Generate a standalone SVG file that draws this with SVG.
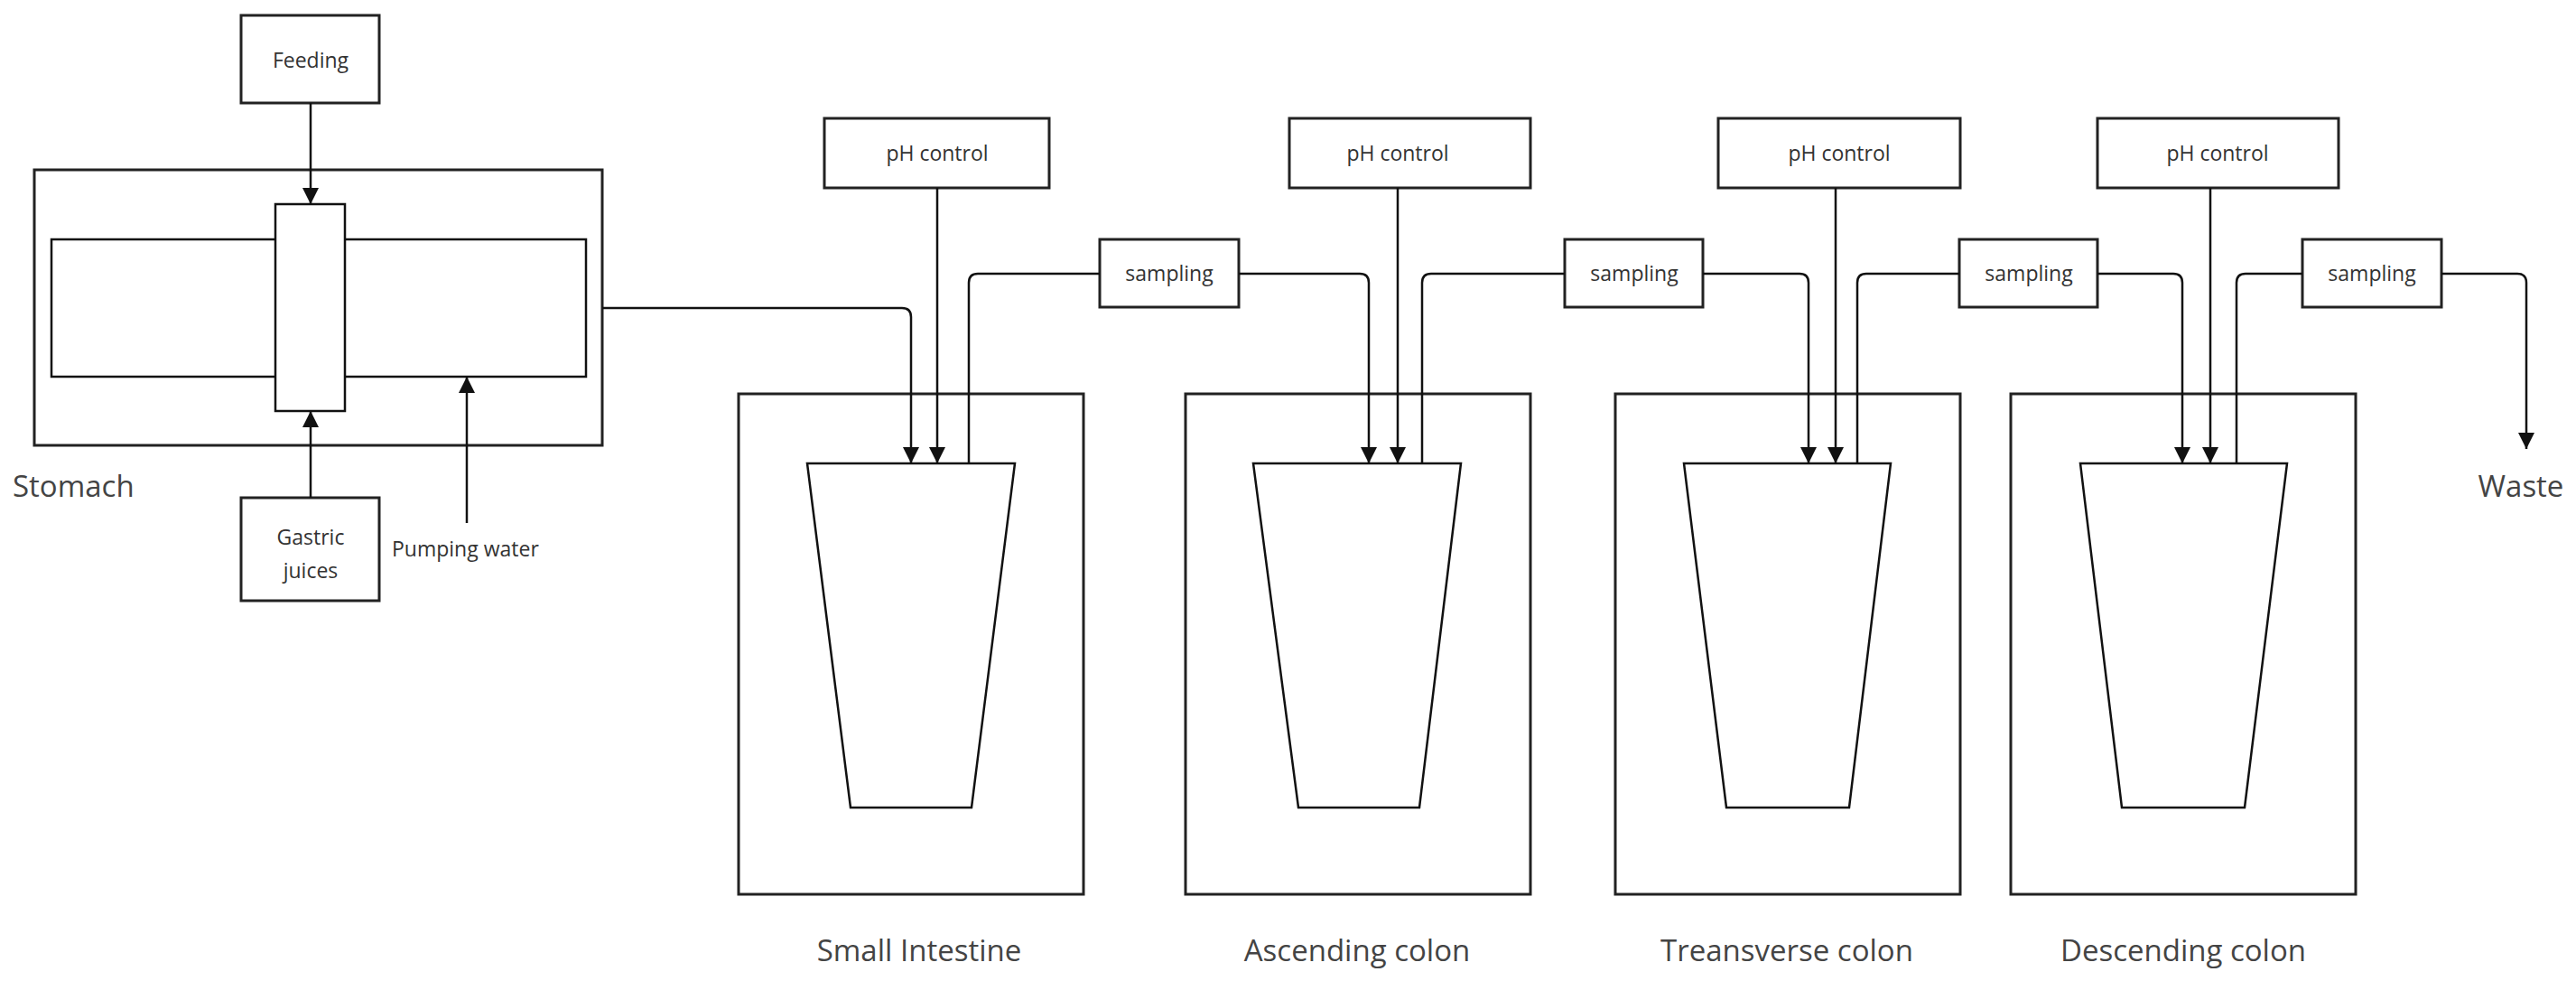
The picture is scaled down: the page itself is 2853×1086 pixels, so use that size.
<svg xmlns="http://www.w3.org/2000/svg" width="2853" height="1086" viewBox="0 0 2853 1086">
<style>
.b{fill:#fff;stroke:#222;stroke-width:3}
.t{fill:#fff;stroke:#111;stroke-width:2.5}
.c{fill:none;stroke:#111;stroke-width:2.5}
.s{font-family:"Open Sans","Noto Sans",sans-serif;font-size:23px;fill:#333;text-anchor:middle}
.L{font-family:"Open Sans","Noto Sans",sans-serif;font-size:33px;fill:#444;text-anchor:middle}
</style>
<defs><marker id="a" markerUnits="userSpaceOnUse" markerWidth="24" markerHeight="24" refX="18" refY="9" orient="auto"><path d="M0,0L18,9L0,18z" fill="#111"/></marker></defs>
<rect width="2853" height="1086" fill="#fff"/>
<g id="stomach"><rect class="b" x="38" y="188" width="629" height="305"/><rect class="t" x="57" y="265" width="592" height="152"/><rect class="t" x="305" y="226" width="77" height="229"/><text class="L" x="14" y="550" style="text-anchor:start">Stomach</text></g>
<g id="feeding"><rect class="b" x="267" y="17" width="153" height="97"/><text class="s" x="344" y="75">Feeding</text></g>
<g id="gastric"><rect class="b" x="267" y="551" width="153" height="114"/><text class="s" x="344" y="603">Gastric</text><text class="s" x="344" y="640">juices</text></g>
<g id="pumping"><text class="s" x="434" y="616" style="text-anchor:start">Pumping water</text></g>
<g id="si"><rect class="b" x="818" y="436" width="382" height="554"/><polygon class="t" points="894,513 1124,513 1076,894 942,894"/><text class="L" x="1018" y="1064">Small Intestine</text></g>
<g id="ac"><rect class="b" x="1313" y="436" width="382" height="554"/><polygon class="t" points="1388,513 1618,513 1572,894 1438,894"/><text class="L" x="1503" y="1064">Ascending colon</text></g>
<g id="tc"><rect class="b" x="1789" y="436" width="382" height="554"/><polygon class="t" points="1865,513 2094,513 2048,894 1912,894"/><text class="L" x="1979" y="1064">Treansverse colon</text></g>
<g id="dc"><rect class="b" x="2227" y="436" width="382" height="554"/><polygon class="t" points="2304,513 2533,513 2486,894 2350,894"/><text class="L" x="2418" y="1064">Descending colon</text></g>
<g id="ph1"><rect class="b" x="913" y="131" width="249" height="77"/><text class="s" x="1038" y="178">pH control</text></g>
<g id="ph2"><rect class="b" x="1428" y="131" width="267" height="77"/><text class="s" x="1548" y="178">pH control</text></g>
<g id="ph3"><rect class="b" x="1903" y="131" width="268" height="77"/><text class="s" x="2037" y="178">pH control</text></g>
<g id="ph4"><rect class="b" x="2323" y="131" width="267" height="77"/><text class="s" x="2456" y="178">pH control</text></g>
<g id="sa1"><rect class="b" x="1218" y="265" width="154" height="75"/><text class="s" x="1295" y="311">sampling</text></g>
<g id="sa2"><rect class="b" x="1733" y="265" width="153" height="75"/><text class="s" x="1810" y="311">sampling</text></g>
<g id="sa3"><rect class="b" x="2170" y="265" width="153" height="75"/><text class="s" x="2247" y="311">sampling</text></g>
<g id="sa4"><rect class="b" x="2550" y="265" width="154" height="75"/><text class="s" x="2627" y="311">sampling</text></g>
<text class="L" x="2792" y="550">Waste</text>
<g id="connectors">
<path class="c" d="M344,114V226" marker-end="url(#a)"/>
<path class="c" d="M344,551V455" marker-end="url(#a)"/>
<path class="c" d="M517,579V417" marker-end="url(#a)"/>
<path class="c" d="M667,341H999Q1009,341 1009,351V513" marker-end="url(#a)"/>
<path class="c" d="M1038,208V513" marker-end="url(#a)"/>
<path class="c" d="M1073,513V313Q1073,303 1083,303H1218"/>
<path class="c" d="M1372,303H1506Q1516,303 1516,313V513" marker-end="url(#a)"/>
<path class="c" d="M1548,208V513" marker-end="url(#a)"/>
<path class="c" d="M1575,513V313Q1575,303 1585,303H1733"/>
<path class="c" d="M1886,303H1993Q2003,303 2003,313V513" marker-end="url(#a)"/>
<path class="c" d="M2033,208V513" marker-end="url(#a)"/>
<path class="c" d="M2057,513V313Q2057,303 2067,303H2170"/>
<path class="c" d="M2323,303H2407Q2417,303 2417,313V513" marker-end="url(#a)"/>
<path class="c" d="M2448,208V513" marker-end="url(#a)"/>
<path class="c" d="M2477,513V313Q2477,303 2487,303H2550"/>
<path class="c" d="M2704,303H2788Q2798,303 2798,313V497" marker-end="url(#a)"/>
</g>
</svg>
